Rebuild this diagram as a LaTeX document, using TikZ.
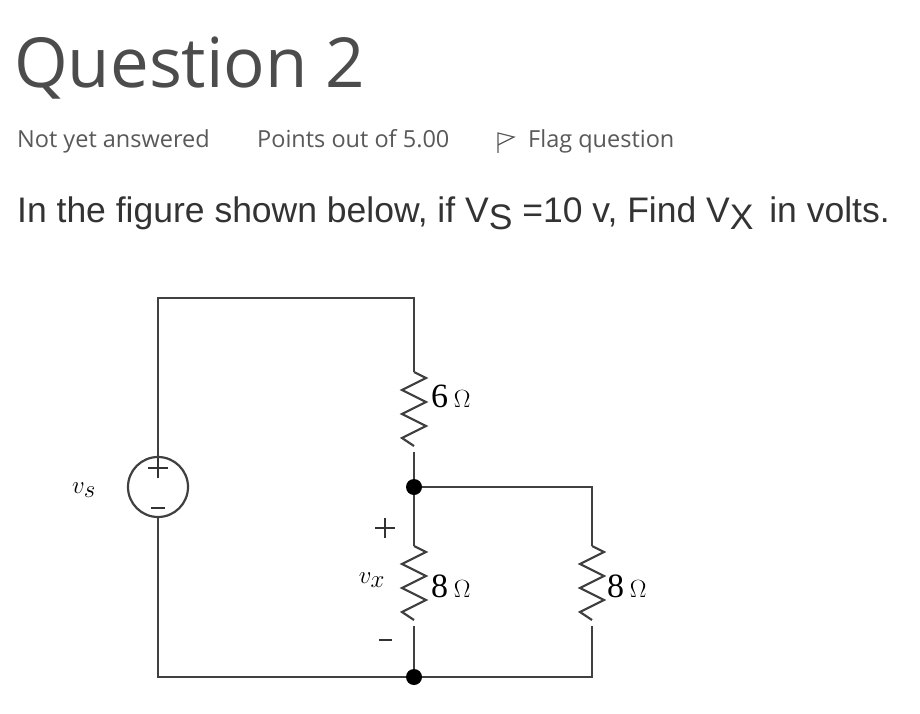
\documentclass[tikz,border=0pt]{standalone}
\usepackage{fontspec}
\setmainfont{Liberation Serif}
\newfontfamily\hdr{Open Sans}
\newfontfamily\arial{Liberation Sans}
\begin{document}
\begin{tikzpicture}[x=1pt,y=-1pt,
  wire/.style={line width=2.2pt,color=black!75},
  dot/.style={circle,fill=black,inner sep=0pt,minimum size=16pt},
  lbl/.style={font=\fontsize{34}{34}\selectfont,inner sep=1pt},
  sgn/.style={line width=1.8pt,color=black!80},
  zig/.style={wire,line join=miter}]
\useasboundingbox[fill=white] (0,0) rectangle (920,714);
\node[anchor=base west,inner sep=0pt,text=black!70,font=\hdr\fontsize{69}{69}\selectfont] (q) at (14,88) {Question 2};
\node[anchor=base west,inner sep=0pt,text=black!65,font=\hdr\fontsize{23.5}{23.5}\selectfont] (s1) at (17,148) {Not yet answered};
\node[anchor=base west,inner sep=0pt,text=black!65,font=\hdr\fontsize{23.5}{23.5}\selectfont] (s2) at (257,148) {Points out of 5.00};
\node[anchor=base west,inner sep=0pt,text=black!65,font=\hdr\fontsize{23.5}{23.5}\selectfont] (s3) at (528,148) {Flag question};
\draw[black!65,line width=1.2pt] (s3.base west) ++(-30,5) -- ++(0,-20) -- ++(16,4) -- ++(-16,8);
\node[anchor=base west,inner sep=0pt,text=black!80,font=\arial\fontsize{35.5}{35.5}\selectfont] (qt) at (17,222) {In the figure shown below, if V\raisebox{-7pt}{S} =10 v, Find V\raisebox{-7pt}{X}\, in volts.};
% circuit
\coordinate (tl) at (158,298);
\coordinate (tm) at (414,298);
\coordinate (bl) at (158,677);
\node[draw,wire,circle,minimum size=60pt,inner sep=0pt] (src) at (158,487) {};
\draw[sgn] (158,458) -- (158,478) (148,468) -- (168,468);
\draw[sgn] (151,508) -- (165,508);
\node[lbl,font=\fontsize{40}{40}\selectfont] (vs) at (84,490) {$v_s$};
\node[dot] (j1) at (414,487) {};
\node[dot] (j2) at (414,677) {};
\coordinate (r6a) at (414,372); \coordinate (r6b) at (414,452);
\coordinate (r8a) at (414,546); \coordinate (r8b) at (414,626);
\coordinate (r9a) at (592,546); \coordinate (r9b) at (592,626);
\coordinate (jr) at (592,487); \coordinate (br) at (592,677);
\draw[wire] (src.north) -- (tl) -- (tm) -- (r6a);
\draw[wire] (src.south) -- (bl) -- (j2) -- (br) -- (r9b);
\draw[wire] (r6b) -- (j1) -- (r8a);
\draw[wire] (r8b) -- (j2);
\draw[wire] (j1) -- (jr) -- (r9a);
\foreach \a in {r6a,r8a,r9a}
  \draw[zig] (\a) -- ++(12,6) -- ++(-24,12) -- ++(24,12) -- ++(-24,12) -- ++(24,12) -- ++(-24,12) -- ++(12,8);
\node[lbl,anchor=west] (l6) at (430,396) {6\,$\Omega$};
\node[lbl,anchor=west] (l8) at (430,586) {8\,$\Omega$};
\node[lbl,anchor=west] (l9) at (606,586) {8\,$\Omega$};
\node[lbl,font=\fontsize{38}{38}\selectfont] (vx) at (372,580) {$v_x$};
\draw[sgn] (385,518) -- (385,538) (375,528) -- (395,528);
\draw[sgn] (379,640) -- (392,640);
\end{tikzpicture}
\end{document}
